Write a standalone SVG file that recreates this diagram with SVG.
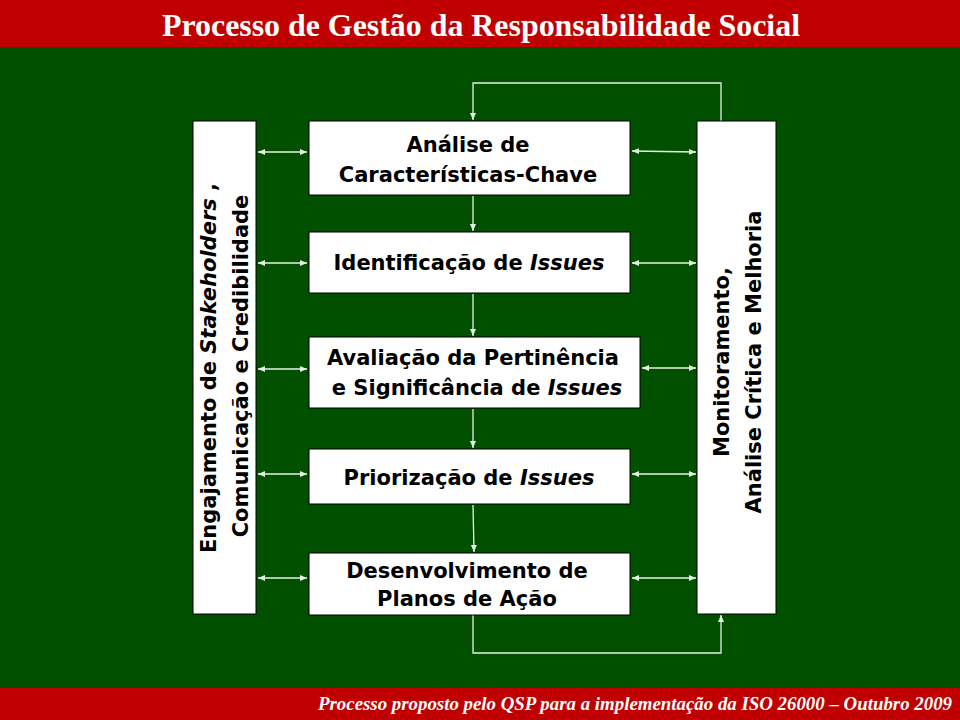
<svg xmlns="http://www.w3.org/2000/svg" width="960" height="720" viewBox="0 0 960 720">
<style>
.box{fill:#fff;stroke:#000;stroke-width:1}
.t{font-family:"DejaVu Sans",Verdana,sans-serif;font-weight:bold;font-size:21px;fill:#000}
.i{font-style:italic}
.c{fill:none;stroke:#E4F2E4;stroke-width:1.3}
</style>
<defs>
<marker id="ah" markerUnits="userSpaceOnUse" markerWidth="8" markerHeight="8" refX="7" refY="4" orient="auto-start-reverse">
<path d="M0,1 L7,4 L0,7 Z" fill="#E4F2E4"/>
</marker>
</defs>
<rect x="0" y="0" width="960" height="720" fill="#005000"/>
<rect x="0" y="0" width="960" height="47" fill="#C00000"/>
<rect x="0" y="688" width="960" height="32" fill="#C00000"/>
<text x="481" y="36" text-anchor="middle" font-family="'Liberation Serif','Times New Roman',serif" font-weight="bold" font-size="31" fill="#fff" textLength="638" lengthAdjust="spacingAndGlyphs">Processo de Gestão da Responsabilidade Social</text>
<text x="318" y="710" font-family="'Liberation Serif','Times New Roman',serif" font-weight="bold" font-style="italic" font-size="18" fill="#fff" textLength="634" lengthAdjust="spacingAndGlyphs">Processo proposto pelo QSP para a implementação da ISO 26000 – Outubro 2009</text>

<g id="connectors">
<line class="c" x1="258" y1="152" x2="307" y2="152" marker-start="url(#ah)" marker-end="url(#ah)"/>
<line class="c" x1="258" y1="263" x2="307" y2="263" marker-start="url(#ah)" marker-end="url(#ah)"/>
<line class="c" x1="258" y1="369" x2="307" y2="369" marker-start="url(#ah)" marker-end="url(#ah)"/>
<line class="c" x1="258" y1="474" x2="307" y2="474" marker-start="url(#ah)" marker-end="url(#ah)"/>
<line class="c" x1="258" y1="578" x2="307" y2="578" marker-start="url(#ah)" marker-end="url(#ah)"/>
<line class="c" x1="632" y1="151" x2="696" y2="152" marker-start="url(#ah)" marker-end="url(#ah)"/>
<line class="c" x1="632" y1="263" x2="696" y2="263" marker-start="url(#ah)" marker-end="url(#ah)"/>
<line class="c" x1="642" y1="368" x2="696" y2="368" marker-start="url(#ah)" marker-end="url(#ah)"/>
<line class="c" x1="632" y1="474" x2="696" y2="474" marker-start="url(#ah)" marker-end="url(#ah)"/>
<line class="c" x1="632" y1="578" x2="696" y2="578" marker-start="url(#ah)" marker-end="url(#ah)"/>
<line class="c" x1="473" y1="196" x2="473" y2="231" marker-end="url(#ah)"/>
<line class="c" x1="473" y1="294" x2="473" y2="336" marker-end="url(#ah)"/>
<line class="c" x1="473" y1="409" x2="473" y2="448" marker-end="url(#ah)"/>
<line class="c" x1="473" y1="505" x2="474" y2="552" marker-end="url(#ah)"/>
<polyline class="c" points="721,121 721,83 473,83 473,120" marker-end="url(#ah)"/>
<polyline class="c" points="473,615 473,653 721,653 721,615" marker-end="url(#ah)"/>
</g>

<g id="left">
<rect class="box" x="193" y="121" width="63" height="493"/>
<text class="t" transform="translate(216,368) rotate(-90)" text-anchor="middle">Engajamento de <tspan class="i">Stakeholders</tspan> ,</text>
<text class="t" transform="translate(248,366) rotate(-90)" text-anchor="middle">Comunicação e Credibilidade</text>
</g>
<g id="right">
<rect class="box" x="697" y="121" width="79" height="493"/>
<text class="t" transform="translate(729,362) rotate(-90)" text-anchor="middle">Monitoramento,</text>
<text class="t" transform="translate(761,362) rotate(-90)" text-anchor="middle">Análise Crítica e Melhoria</text>
</g>
<g id="n1">
<rect class="box" x="309" y="121" width="321" height="74"/>
<text class="t" x="468" y="152" text-anchor="middle">Análise de</text>
<text class="t" x="468" y="182" text-anchor="middle">Características-Chave</text>
</g>
<g id="n2">
<rect class="box" x="309" y="232" width="321" height="61"/>
<text class="t" x="469" y="270" text-anchor="middle">Identificação de <tspan class="i">Issues</tspan></text>
</g>
<g id="n3">
<rect class="box" x="309" y="337" width="331" height="71"/>
<text class="t" x="473" y="365" text-anchor="middle">Avaliação da Pertinência</text>
<text class="t" x="477" y="395" text-anchor="middle">e Significância de <tspan class="i">Issues</tspan></text>
</g>
<g id="n4">
<rect class="box" x="309" y="449" width="321" height="55"/>
<text class="t" x="469" y="485" text-anchor="middle">Priorização de <tspan class="i">Issues</tspan></text>
</g>
<g id="n5">
<rect class="box" x="309" y="553" width="321" height="62"/>
<text class="t" x="467" y="578" text-anchor="middle">Desenvolvimento de</text>
<text class="t" x="467" y="606" text-anchor="middle">Planos de Ação</text>
</g>
</svg>
